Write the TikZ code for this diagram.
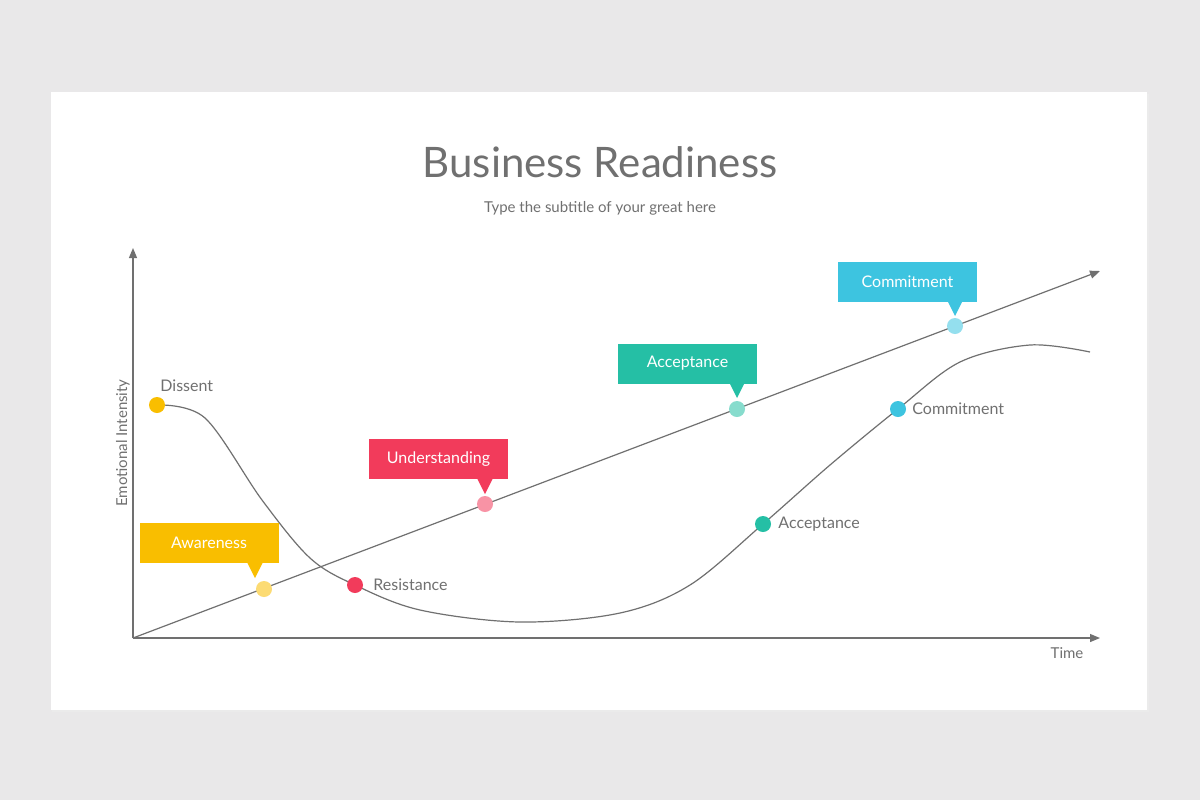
\documentclass[tikz,border=0pt]{standalone}
\usepackage{fontspec}
\setmainfont{Lato}
\usetikzlibrary{arrows.meta}
\definecolor{bg}{HTML}{E9E8E9}
\definecolor{txt}{HTML}{707070}
\definecolor{cyel}{HTML}{F9BE00}
\definecolor{cred}{HTML}{F23B5B}
\definecolor{cteal}{HTML}{25BFA5}
\definecolor{cblue}{HTML}{3DC4E0}
\tikzset{
 dot/.style={circle,fill=#1,minimum size=16*0.5pt,inner sep=0pt},
 ldot/.style={circle,fill=#1!55,minimum size=16*0.5pt,inner sep=0pt},
 lbl/.style={text=txt,font=\fontsize{8pt}{9pt}\selectfont,anchor=west,inner sep=0pt},
 callout/.style={fill=#1,text=white,font=\fontsize{8pt}{9pt}\selectfont,minimum width=139*0.5pt,minimum height=40*0.5pt,inner sep=0pt},
 ax/.style={draw=txt,line width=0.6pt,-{Triangle[length=5pt,width=4pt]}}
}
\begin{document}
\begin{tikzpicture}[x=0.5pt,y=-0.5pt]
\useasboundingbox (0,0) rectangle (1200,800);
\fill[bg] (0,0) rectangle (1200,800);
\fill[black!8] (52,94) rectangle (1149,712);
\fill[white] (51,92) rectangle (1147,710);
\node[text=txt,font=\fontsize{21pt}{24pt}\selectfont] (title) at (600,162) {Business Readiness};
\node[text=txt,font=\fontsize{7.5pt}{9pt}\selectfont] (sub) at (600,208) {Type the subtitle of your great here};
\coordinate (o) at (133,638);
\coordinate (ytop) at (133,248);
\coordinate (xend) at (1100,638);
\coordinate (dend) at (1100,271);
\draw[ax] (o) -- (ytop);
\draw[ax] (o) -- (xend);
\draw[ax] (o) -- (dend);
\node[text=txt,font=\fontsize{7.5pt}{9pt}\selectfont,rotate=90] (yl) at (123,443) {Emotional Intensity};
\node[text=txt,font=\fontsize{7.5pt}{9pt}\selectfont] (xl) at (1067,653) {Time};
\draw[txt,line width=0.6pt] plot[smooth,tension=0.55] coordinates {(157,405)(205,418)(262,500)(310,558)(355,585)(420,610)(520,622)(620,613)(690,585)(763,524)(830,465)(898,409)(960,362)(1030,345)(1090,352)};
\node[dot=cyel] (d1) at (157,405) {};
\node[dot=cred] (d2) at (355,585) {};
\node[dot=cteal] (d3) at (763,524) {};
\node[dot=cblue] (d4) at (898,409) {};
\node[lbl] (t1) at (160,386) {Dissent};
\node[lbl] (t2) at (373,585) {Resistance};
\node[lbl] (t3) at (778,524) {Acceptance};
\node[lbl] (t4) at (912,409) {Commitment};
\node[ldot=cyel] (l1) at (264,589) {};
\node[ldot=cred] (l2) at (485,504) {};
\node[ldot=cteal] (l3) at (737,409) {};
\node[ldot=cblue] (l4) at (955,326) {};
\node[callout=cyel] (c1) at (209,543) {Awareness};
\fill[cyel] (247,562) -- (263,562) -- (255,578) -- cycle;
\node[callout=cred] (c2) at (438.5,459) {Understanding};
\fill[cred] (477,478) -- (493,478) -- (485,494) -- cycle;
\node[callout=cteal] (c3) at (687.5,363.5) {Acceptance};
\fill[cteal] (729,382) -- (745,382) -- (737,398) -- cycle;
\node[callout=cblue] (c4) at (907.5,281.5) {Commitment};
\fill[cblue] (947,300) -- (963,300) -- (955,316) -- cycle;
\end{tikzpicture}
\end{document}
